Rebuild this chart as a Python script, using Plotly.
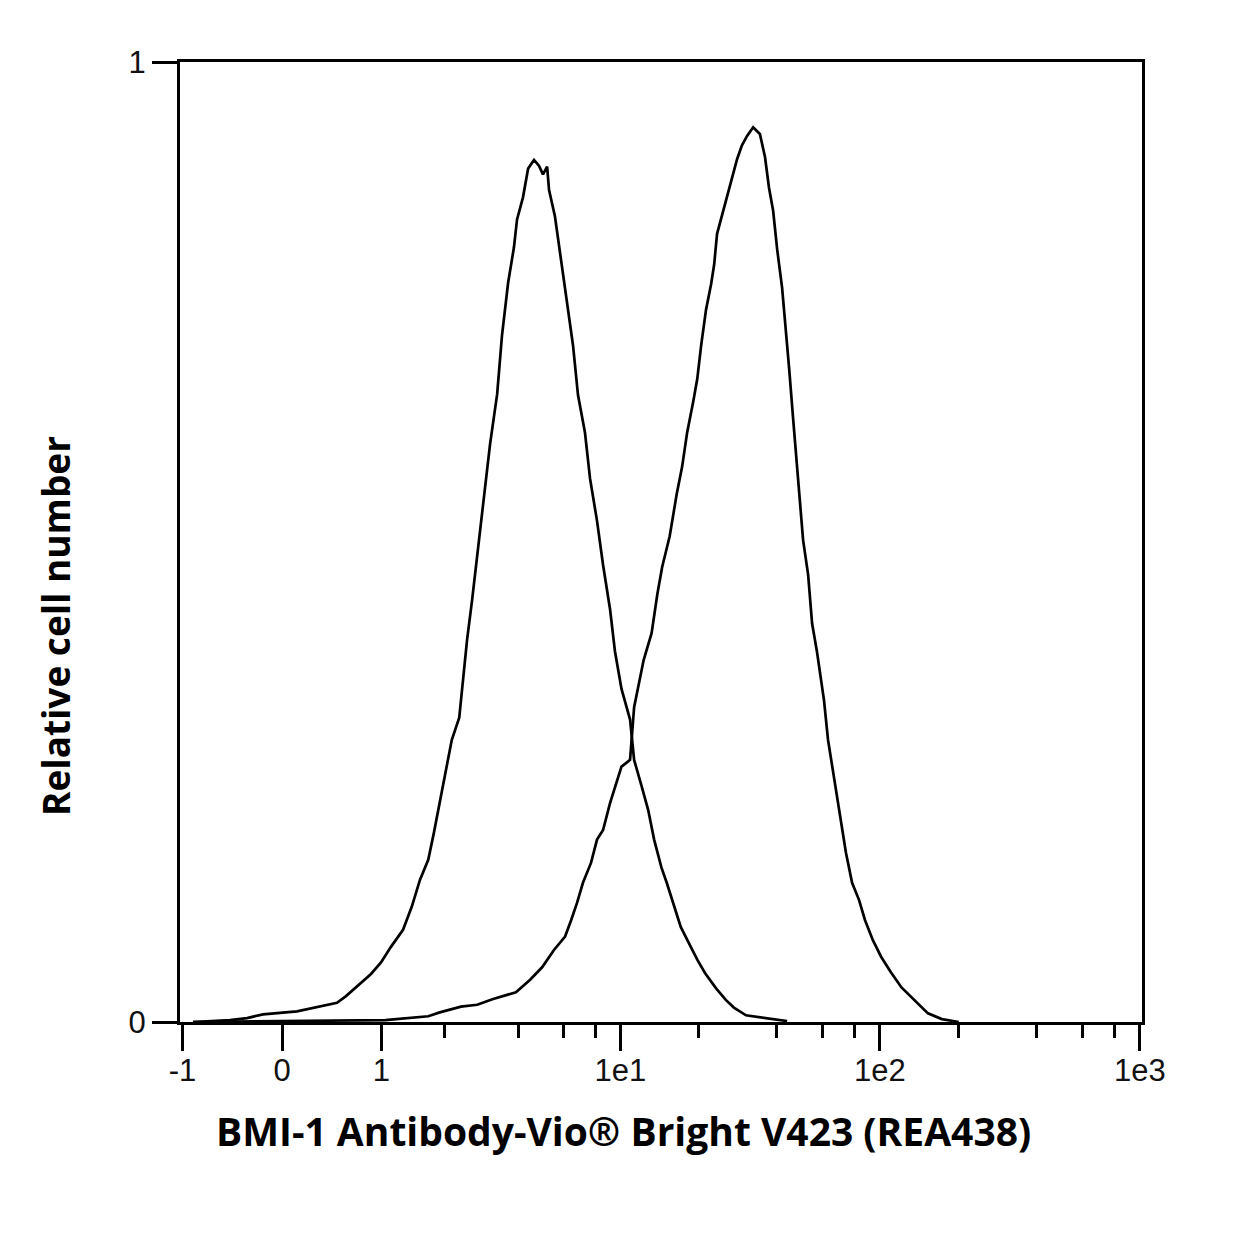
import numpy as np
import plotly.graph_objects as go

# Fluorescence intensity (real units) and relative cell number
CTRL_X = [-0.873, -0.477, -0.315, -0.169, 0.133, 0.371, 0.507, 0.598, 0.759, 0.873,
          0.994, 1.12, 1.29, 1.42, 1.55, 1.69, 1.79, 1.90, 2.02, 2.14,
          2.30, 2.39, 2.48, 2.60, 2.75, 2.91, 3.08, 3.29, 3.44, 3.64,
          3.84, 3.95, 4.17, 4.37, 4.61, 4.82, 5.00, 5.19, 5.28, 5.57,
          5.93, 6.21, 6.55, 6.85, 7.29, 7.63, 8.12, 8.57, 9.12, 9.53,
          10.1, 10.9, 11.3, 12.1, 12.8, 13.5, 14.4, 15.1, 16.0, 17.1,
          18.4, 19.8, 21.2, 23.4, 25.5, 27.4, 30.5, 36.7, 43.9]
CTRL_Y = [0.000, 0.002, 0.004, 0.008, 0.011, 0.017, 0.020, 0.027, 0.041, 0.050,
          0.062, 0.078, 0.096, 0.120, 0.148, 0.169, 0.197, 0.229, 0.260, 0.294,
          0.317, 0.361, 0.398, 0.439, 0.491, 0.547, 0.602, 0.654, 0.715, 0.770,
          0.807, 0.836, 0.859, 0.889, 0.898, 0.892, 0.883, 0.891, 0.867, 0.839,
          0.789, 0.752, 0.705, 0.653, 0.614, 0.566, 0.522, 0.476, 0.430, 0.386,
          0.347, 0.315, 0.273, 0.245, 0.221, 0.190, 0.161, 0.145, 0.124, 0.099,
          0.082, 0.065, 0.051, 0.035, 0.023, 0.015, 0.007, 0.004, 0.001]

STAIN_X = [-0.873, 1.05, 1.69, 1.90, 2.34, 2.73, 3.17, 3.91, 4.45, 4.96,
           5.52, 6.10, 6.44, 6.79, 7.16, 7.70, 8.12, 8.57, 9.12, 9.62,
           10.1, 10.9, 11.3, 12.3, 13.2, 13.9, 14.5, 15.5, 16.5, 17.3,
           18.1, 19.1, 19.8, 20.5, 21.4, 22.4, 23.0, 23.6, 24.7, 26.0,
           27.2, 28.2, 29.4, 30.8, 32.5, 34.5, 36.1, 37.4, 38.8, 40.2,
           42.0, 43.5, 44.7, 46.3, 48.4, 50.6, 52.9, 54.8, 57.2, 58.8,
           60.9, 63.1, 66.5, 69.0, 71.4, 74.0, 78.1, 83.1, 87.6, 94.0,
           101, 110, 121, 135, 153, 173, 201]
STAIN_Y = [0.000, 0.002, 0.006, 0.010, 0.016, 0.018, 0.024, 0.031, 0.044, 0.057,
           0.075, 0.089, 0.106, 0.124, 0.145, 0.166, 0.190, 0.200, 0.228, 0.249,
           0.266, 0.273, 0.328, 0.377, 0.405, 0.446, 0.474, 0.506, 0.550, 0.578,
           0.614, 0.646, 0.670, 0.705, 0.742, 0.769, 0.789, 0.821, 0.841, 0.863,
           0.884, 0.899, 0.913, 0.923, 0.932, 0.925, 0.901, 0.869, 0.845, 0.805,
           0.765, 0.721, 0.681, 0.629, 0.566, 0.502, 0.466, 0.415, 0.386, 0.363,
           0.335, 0.294, 0.255, 0.231, 0.203, 0.176, 0.145, 0.127, 0.106, 0.085,
           0.068, 0.052, 0.036, 0.023, 0.009, 0.003, 0.000]

MAJOR_TICKS = [-1, 0, 1, 10, 100, 1000]
MAJOR_LABELS = ["-1", "0", "1", "1e1", "1e2", "1e3"]
MINOR_TICKS = [2, 4, 6, 8, 20, 40, 60, 80, 200, 400, 600, 800]
Y_TICKS = [0, 1]
Y_LABELS = ["0", "1"]

X_TITLE = "BMI-1 Antibody-Vio® Bright V423 (REA438)"
Y_TITLE = "Relative cell number"


def disp(v):
    """Biexponential-like display transform (arcsinh)."""
    return np.arcsinh(np.asarray(v, dtype=float))


fig = go.Figure()
for xs, ys in [(CTRL_X, CTRL_Y), (STAIN_X, STAIN_Y)]:
    fig.add_trace(go.Scatter(x=disp(xs), y=ys, mode="lines",
                             line=dict(color="black", width=2.7),
                             showlegend=False, hoverinfo="skip"))

tick_font = dict(family="Liberation Sans Narrow, Liberation Sans, Arial", size=31, color="#111")

fig.update_layout(
    width=1250, height=1250,
    margin=dict(l=180, r=108, t=62, b=228),
    paper_bgcolor="white", plot_bgcolor="white",
    xaxis=dict(
        range=[-0.9038, 7.620],
        tickmode="array",
        tickvals=disp(MAJOR_TICKS), ticktext=MAJOR_LABELS,
        ticks="outside", ticklen=26, tickwidth=3, tickcolor="black",
        ticklabelstandoff=-7,
        minor=dict(tickmode="array", tickvals=disp(MINOR_TICKS),
                   ticks="outside", ticklen=13, tickwidth=3, tickcolor="black",
                   showgrid=False),
        showline=True, linecolor="black", linewidth=3, mirror=True,
        showgrid=False, zeroline=False,
        tickfont=tick_font,
    ),
    yaxis=dict(
        range=[0, 1],
        tickmode="array", tickvals=Y_TICKS, ticktext=Y_LABELS,
        ticks="outside", ticklen=25, tickwidth=3, tickcolor="black",
        showline=True, linecolor="black", linewidth=3, mirror=True,
        showgrid=False, zeroline=False,
        tickfont=tick_font,
    ),
    annotations=[
        dict(text="<b>" + X_TITLE + "</b>", xref="paper", yref="paper",
             x=0.4615, y=-0.1125, xanchor="center", yanchor="middle",
             showarrow=False,
             font=dict(family="Open Sans, DejaVu Sans", size=39, color="black")),
        dict(text="<b>" + Y_TITLE + "</b>", xref="paper", yref="paper",
             x=-0.13, y=0.4125, xanchor="center", yanchor="middle",
             textangle=-90, showarrow=False,
             font=dict(family="Open Sans, DejaVu Sans", size=37, color="black")),
    ],
)

fig.write_html("out.html")
